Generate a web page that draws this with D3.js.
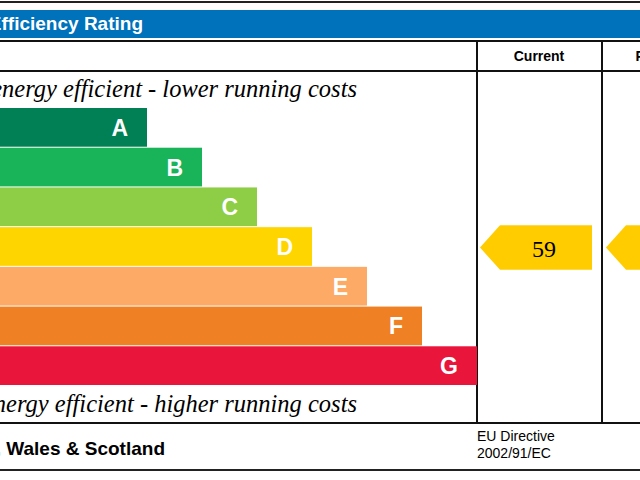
<!DOCTYPE html><html><head><meta charset="utf-8">
<script src="https://cdn.jsdelivr.net/npm/d3@7"></script>
<style>body{margin:0;background:#fff}svg{display:block}</style></head><body>
<svg id="c" width="640" height="480"></svg>
<script>
const bands=["A","B","C","D","E","F","G"];
const bandColors=["#008054","#19b459","#8dce46","#ffd500","#fcaa65","#ef8023","#e9153b"];
const currentRating=59, currentBand="D";
const potentialBand="D";
const svg=d3.select("#c");
const W=640;
svg.append("rect").attr("x",-5).attr("y",2).attr("width",W+10).attr("height",468).attr("fill","#fff").attr("stroke","#222").attr("stroke-width",2);
svg.append("rect").attr("x",0).attr("y",10).attr("width",W).attr("height",28).attr("fill","#0071bb");
svg.append("text").attr("x",143).attr("y",30).attr("text-anchor","end").attr("fill","#fff")
 .attr("font-family","Liberation Sans, Arial").attr("font-weight","bold").attr("font-size",19).text("Energy Efficiency Rating");
const line=(x1,y1,x2,y2)=>svg.append("line").attr("x1",x1).attr("y1",y1).attr("x2",x2).attr("y2",y2).attr("stroke","#111").attr("stroke-width",2);
line(0,41,W,41);line(0,71,W,71);line(0,423,W,423);
line(477,41,477,423);line(602,41,602,423);
const hdr=(x,t)=>svg.append("text").attr("x",x).attr("y",61).attr("text-anchor","middle").attr("font-family","Liberation Sans, Arial").attr("font-weight","bold").attr("font-size",14).text(t);
hdr(539,"Current");hdr(665,"Potential");
const it=(y,t)=>svg.append("text").attr("x",357).attr("y",y).attr("text-anchor","end").attr("font-family","Liberation Serif, Times New Roman").attr("font-style","italic").attr("font-size",24.5).text(t);
it(97,"Very energy efficient - lower running costs");
it(412,"Not energy efficient - higher running costs");
const y=d3.scaleBand().domain(bands).range([108,386]).paddingInner(0);
const x=d3.scaleLinear().domain([0,6]).range([147,477]);
const g=svg.selectAll("g.b").data(bands).join("g");
g.append("rect").attr("x",0).attr("y",d=>y(d)).attr("width",(d,i)=>x(i)).attr("height",y.bandwidth()-1).attr("fill",(d,i)=>bandColors[i]);
g.append("text").attr("x",(d,i)=>x(i)-19).attr("y",d=>y(d)+y.bandwidth()/2+8).attr("text-anchor","end").attr("fill","#fff")
 .attr("font-family","Liberation Sans, Arial").attr("font-weight","bold").attr("font-size",23).text(d=>d);
function arrow(x0,x1,band,label){
 const t=y(band)-2,b=y(band)+y.bandwidth()+3,m=(t+b)/2;
 svg.append("path").attr("d",`M${x0},${m}L${x0+20},${t}L${x1},${t}L${x1},${b}L${x0+20},${b}Z`).attr("fill","#ffcc00");
 if(label!=null)svg.append("text").attr("x",(x0+x1)/2+8).attr("y",m+9).attr("text-anchor","middle").attr("font-family","Liberation Serif, Times New Roman").attr("font-size",24).text(label);
}
arrow(480,592,currentBand,currentRating);
arrow(606,740,potentialBand,null);
svg.append("text").attr("x",165).attr("y",455).attr("text-anchor","end").attr("font-family","Liberation Sans, Arial").attr("font-weight","bold").attr("font-size",19).text("England, Wales & Scotland");
svg.append("text").attr("x",477).attr("y",441).attr("font-family","Liberation Sans, Arial").attr("font-size",14).text("EU Directive");
svg.append("text").attr("x",477).attr("y",458).attr("font-family","Liberation Sans, Arial").attr("font-size",14).text("2002/91/EC");
</script></body></html>
